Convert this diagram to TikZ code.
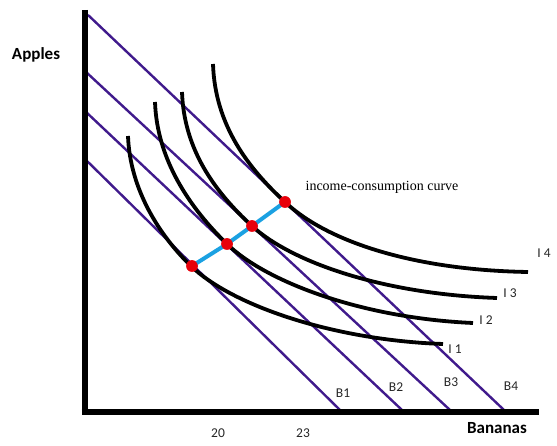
\documentclass[tikz,border=0pt]{standalone}
\usepackage{fontspec}
\setmainfont{Carlito}
\newfontfamily\seriflab{Liberation Serif}
\definecolor{budget}{RGB}{64,26,140}
\definecolor{iccblue}{RGB}{27,161,226}
\definecolor{dotred}{RGB}{232,0,10}
\begin{document}
\begin{tikzpicture}[x=1pt,y=-1pt,
  axisline/.style={line width=6pt,black},
  budgetline/.style={line width=2.4pt,budget},
  indiff/.style={line width=3.8pt,black},
  icc/.style={line width=4pt,iccblue},
  eqdot/.style={circle,fill=dotred,inner sep=0pt,minimum size=11.5pt},
  axlabel/.style={font=\fontsize{17}{20}\selectfont\bfseries,inner sep=0pt},
  smlabel/.style={font=\fontsize{13.5}{16}\selectfont,inner sep=0pt,text=black!85}]
\useasboundingbox (0,0) rectangle (557,446);
% budget lines
\coordinate (b1s) at (86,160); \coordinate (b1e) at (340,410);
\coordinate (b2s) at (86,112); \coordinate (b2e) at (402,410);
\coordinate (b3s) at (86,72);  \coordinate (b3e) at (450,410);
\coordinate (b4s) at (88,15);  \coordinate (b4e) at (504,410);
\draw[budgetline] (b1s) -- (b1e);
\draw[budgetline] (b2s) -- (b2e);
\draw[budgetline] (b3s) -- (b3e);
\draw[budgetline] (b4s) -- (b4e);
% indifference curves
\draw[indiff] (128,136) .. controls (130,190) and (160,236) .. (191,266)
  .. controls (230,304) and (330,340) .. (443,344);
\draw[indiff] (155,102) .. controls (157,160) and (190,208) .. (227,244)
  .. controls (265,281) and (360,318) .. (473,323);
\draw[indiff] (182,92) .. controls (184,150) and (215,192) .. (252,226)
  .. controls (290,261) and (380,294) .. (497,298);
\draw[indiff] (213,64) .. controls (215,125) and (248,168) .. (285,202)
  .. controls (325,240) and (410,270) .. (528,272);
% income-consumption curve
\node[eqdot] (e1) at (192,266) {};
\node[eqdot] (e2) at (227,244) {};
\node[eqdot] (e3) at (252,226) {};
\node[eqdot] (e4) at (285,202) {};
\draw[icc] (e1.center) -- (e2.center) -- (e3.center) -- (e4.center);
\node[eqdot] at (e1) {};
\node[eqdot] at (e2) {};
\node[eqdot] at (e3) {};
\node[eqdot] at (e4) {};
% axes
\coordinate (ytop) at (84.5,10);
\coordinate (orig) at (84.5,411.5);
\coordinate (xend) at (539,411.5);
\draw[axisline] (ytop) -- ([yshift=3pt]orig);
\draw[axisline] ([xshift=-3pt]orig) -- (xend);
% labels
\node[axlabel] (apples) at (36,55) {Apples};
\node[axlabel] (bananas) at (497,428) {Bananas};
\node[smlabel] (t20) at (218,433) {20};
\node[smlabel] (t23) at (303,433) {23};
\node[smlabel] (lb1) at (343,393) {B1};
\node[smlabel] (lb2) at (396,387) {B2};
\node[smlabel] (lb3) at (451,382) {B3};
\node[smlabel] (lb4) at (511,386) {B4};
\node[smlabel] (li1) at (455,349) {I 1};
\node[smlabel] (li2) at (486,320) {I 2};
\node[smlabel] (li3) at (510,293) {I 3};
\node[smlabel] (li4) at (544,253) {I 4};
\node[font=\seriflab\fontsize{14}{16}\selectfont,inner sep=0pt] (iccl) at (382,187) {income-consumption curve};
\end{tikzpicture}
\end{document}
